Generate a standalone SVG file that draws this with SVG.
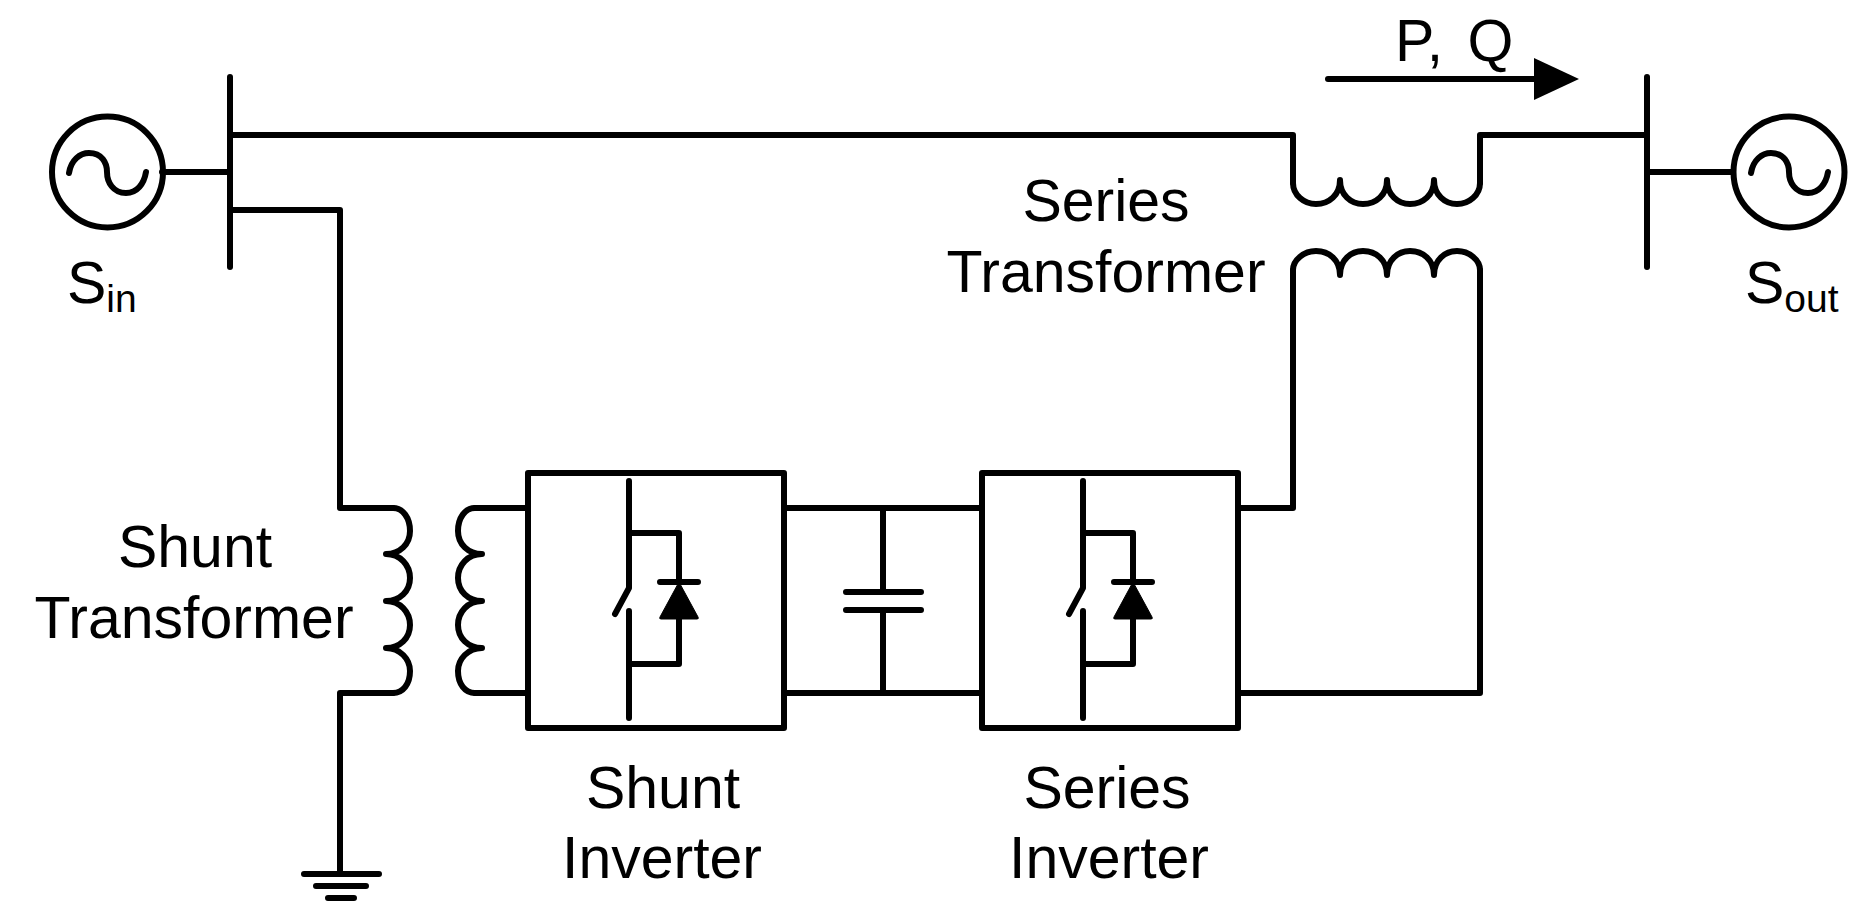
<svg xmlns="http://www.w3.org/2000/svg" width="1864" height="919" viewBox="0 0 1864 919">
<defs>
<style>
.w{fill:none;stroke:#000;stroke-width:6;stroke-linecap:round;stroke-linejoin:round}
.t{font-family:"Liberation Sans",Arial,sans-serif;font-size:59px;fill:#000}
.s{font-size:39px}
</style>
<path id="sine" d="M69,173 C71,160 80,153 89,153 C102,153 107,163 107,172 C107,182 113,193 126,193 C137,193 144,184 146,172"/>
<g id="igbt">
<path class="w" d="M629,481 V588 L615,614 M629,611 V718 M629,533 H679 V582 M629,664 H679 V617 M660,582 H698"/>
<path d="M679,582 L698,617 Q699,619 697,619 H661 Q659,619 660,617 Z" fill="#000" stroke="#000" stroke-width="1"/>
</g>
</defs>
<rect width="1864" height="919" fill="#fff"/>
<g id="connectors">
<path class="w" d="M230,135 H1293 V183"/>
<path class="w" d="M1480,183 V135 H1647"/>
<path class="w" d="M162,172 H230"/>
<path class="w" d="M1647,172 H1733"/>
<path class="w" d="M230,210 H340 V508 H393"/>
<path class="w" d="M393,693 H340 V874"/>
<path class="w" d="M528,508 H475"/>
<path class="w" d="M528,693 H475"/>
<path class="w" d="M784,508 H982"/>
<path class="w" d="M784,693 H982"/>
<path class="w" d="M883,508 V592"/>
<path class="w" d="M883,610 V693"/>
<path class="w" d="M1238,508 H1293 V270"/>
<path class="w" d="M1238,693 H1480 V270"/>
<path class="w" d="M1328,79 H1536"/>
<path d="M1534,58 L1579,79 L1534,100 Z" fill="#000"/>
</g>
<g id="source-in">
<circle class="w" cx="107.500" cy="172" r="55.500"/>
<use href="#sine" class="w"/>
</g>
<g id="bus-in"><path class="w" d="M230,77 V267"/></g>
<g id="source-out">
<circle class="w" cx="1789" cy="172" r="55.500"/>
<use href="#sine" class="w" x="1682"/>
</g>
<g id="bus-out"><path class="w" d="M1647,77 V267"/></g>
<g id="series-transformer">
<path class="w" d="M1293,183 C1293,195 1304,204 1316,204 C1329,204 1340,195 1340,180 C1340,195 1351,204 1363,204 C1376,204 1387,195 1387,180 C1387,195 1398,204 1410,204 C1423,204 1434,195 1434,180 C1434,195 1445,204 1457,204 C1469,204 1480,195 1480,183"/>
<path class="w" d="M1293,270 C1293,260 1304,251 1316,251 C1329,251 1340,260 1340,275 C1340,260 1351,251 1363,251 C1376,251 1387,260 1387,275 C1387,260 1398,251 1410,251 C1423,251 1434,260 1434,275 C1434,260 1445,251 1457,251 C1469,251 1480,260 1480,270"/>
</g>
<g id="shunt-transformer">
<path class="w" d="M393,508 C403,508 410,518 410,531 C410,544 400,554 386,554 C400,554 410,565 410,578 C410,591 400,601 386,601 C400,601 410,612 410,625 C410,638 400,648 386,648 C400,648 410,659 410,671 C410,684 403,693 393,693"/>
<path class="w" d="M475,508 C465,508 458,518 458,531 C458,544 468,554 482,554 C468,554 458,565 458,578 C458,591 468,601 482,601 C468,601 458,612 458,625 C458,638 468,648 482,648 C468,648 458,659 458,671 C458,684 465,693 475,693"/>
</g>
<g id="shunt-inverter">
<rect class="w" x="528" y="473" width="256" height="255"/>
<use href="#igbt"/>
</g>
<g id="capacitor">
<path class="w" d="M846,592 H921 M846,610 H921"/>
</g>
<g id="series-inverter">
<rect class="w" x="982" y="473" width="256" height="255"/>
<use href="#igbt" x="454"/>
</g>
<g id="ground">
<path class="w" d="M304,874 H379 M316,886 H366 M328,898 H354"/>
</g>
<g id="labels">
<text class="t" x="67" y="303">S<tspan class="s" dy="9">in</tspan></text>
<text class="t" x="1745" y="303">S<tspan class="s" dy="9">out</tspan></text>
<text class="t" x="1395" y="61" word-spacing="8">P, Q</text>
<text class="t" x="1106" y="221" text-anchor="middle">Series</text>
<text class="t" x="1106" y="292" text-anchor="middle">Transformer</text>
<text class="t" x="195" y="567" text-anchor="middle">Shunt</text>
<text class="t" x="194" y="638" text-anchor="middle">Transformer</text>
<text class="t" x="663" y="808" text-anchor="middle">Shunt</text>
<text class="t" x="662" y="878" text-anchor="middle">Inverter</text>
<text class="t" x="1107" y="808" text-anchor="middle">Series</text>
<text class="t" x="1109" y="878" text-anchor="middle">Inverter</text>
</g>
</svg>
